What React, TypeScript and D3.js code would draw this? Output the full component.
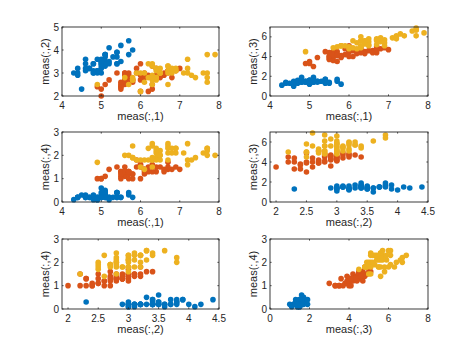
import React from "react";
import * as d3 from "d3";

// Fisher iris data (meas columns) grouped by species
const setosa: number[][] = [
  [5.1,3.5,1.4,0.2],[4.9,3.0,1.4,0.2],[4.7,3.2,1.3,0.2],[4.6,3.1,1.5,0.2],[5.0,3.6,1.4,0.2],
  [5.4,3.9,1.7,0.4],[4.6,3.4,1.4,0.3],[5.0,3.4,1.5,0.2],[4.4,2.9,1.4,0.2],[4.9,3.1,1.5,0.1],
  [5.4,3.7,1.5,0.2],[4.8,3.4,1.6,0.2],[4.8,3.0,1.4,0.1],[4.3,3.0,1.1,0.1],[5.8,4.0,1.2,0.2],
  [5.7,4.4,1.5,0.4],[5.4,3.9,1.3,0.4],[5.1,3.5,1.4,0.3],[5.7,3.8,1.7,0.3],[5.1,3.8,1.5,0.3],
  [5.4,3.4,1.7,0.2],[5.1,3.7,1.5,0.4],[4.6,3.6,1.0,0.2],[5.1,3.3,1.7,0.5],[4.8,3.4,1.9,0.2],
  [5.0,3.0,1.6,0.2],[5.0,3.4,1.6,0.4],[5.2,3.5,1.5,0.2],[5.2,3.4,1.4,0.2],[4.7,3.2,1.6,0.2],
  [4.8,3.1,1.6,0.2],[5.4,3.4,1.5,0.4],[5.2,4.1,1.5,0.1],[5.5,4.2,1.4,0.2],[4.9,3.1,1.5,0.2],
  [5.0,3.2,1.2,0.2],[5.5,3.5,1.3,0.2],[4.9,3.6,1.4,0.1],[4.4,3.0,1.3,0.2],[5.1,3.4,1.5,0.2],
  [5.0,3.5,1.3,0.3],[4.5,2.3,1.3,0.3],[4.4,3.2,1.3,0.2],[5.0,3.5,1.6,0.6],[5.1,3.8,1.9,0.4],
  [4.8,3.0,1.4,0.3],[5.1,3.8,1.6,0.2],[4.6,3.2,1.4,0.2],[5.3,3.7,1.5,0.2],[5.0,3.3,1.4,0.2],
];
const versicolor: number[][] = [
  [7.0,3.2,4.7,1.4],[6.4,3.2,4.5,1.5],[6.9,3.1,4.9,1.5],[5.5,2.3,4.0,1.3],[6.5,2.8,4.6,1.5],
  [5.7,2.8,4.5,1.3],[6.3,3.3,4.7,1.6],[4.9,2.4,3.3,1.0],[6.6,2.9,4.6,1.3],[5.2,2.7,3.9,1.4],
  [5.0,2.0,3.5,1.0],[5.9,3.0,4.2,1.5],[6.0,2.2,4.0,1.0],[6.1,2.9,4.7,1.4],[5.6,2.9,3.6,1.3],
  [6.7,3.1,4.4,1.4],[5.6,3.0,4.5,1.5],[5.8,2.7,4.1,1.0],[6.2,2.2,4.5,1.5],[5.6,2.5,3.9,1.1],
  [5.9,3.2,4.8,1.8],[6.1,2.8,4.0,1.3],[6.3,2.5,4.9,1.5],[6.1,2.8,4.7,1.2],[6.4,2.9,4.3,1.3],
  [6.6,3.0,4.4,1.4],[6.8,2.8,4.8,1.4],[6.7,3.0,5.0,1.7],[6.0,2.9,4.5,1.5],[5.7,2.6,3.5,1.0],
  [5.5,2.4,3.8,1.1],[5.5,2.4,3.7,1.0],[5.8,2.7,3.9,1.2],[6.0,2.7,5.1,1.6],[5.4,3.0,4.5,1.5],
  [6.0,3.4,4.5,1.6],[6.7,3.1,4.7,1.5],[6.3,2.3,4.4,1.3],[5.6,3.0,4.1,1.3],[5.5,2.5,4.0,1.3],
  [5.5,2.6,4.4,1.2],[6.1,3.0,4.6,1.4],[5.8,2.6,4.0,1.2],[5.0,2.3,3.3,1.0],[5.6,2.7,4.2,1.3],
  [5.7,3.0,4.2,1.2],[5.7,2.9,4.2,1.3],[6.2,2.9,4.3,1.3],[5.1,2.5,3.0,1.1],[5.7,2.8,4.1,1.3],
];
const virginica: number[][] = [
  [6.3,3.3,6.0,2.5],[5.8,2.7,5.1,1.9],[7.1,3.0,5.9,2.1],[6.3,2.9,5.6,1.8],[6.5,3.0,5.8,2.2],
  [7.6,3.0,6.6,2.1],[4.9,2.5,4.5,1.7],[7.3,2.9,6.3,1.8],[6.7,2.5,5.8,1.8],[7.2,3.6,6.1,2.5],
  [6.5,3.2,5.1,2.0],[6.4,2.7,5.3,1.9],[6.8,3.0,5.5,2.1],[5.7,2.5,5.0,2.0],[5.8,2.8,5.1,2.4],
  [6.4,3.2,5.3,2.3],[6.5,3.0,5.5,1.8],[7.7,3.8,6.7,2.2],[7.7,2.6,6.9,2.3],[6.0,2.2,5.0,1.5],
  [6.9,3.2,5.7,2.3],[5.6,2.8,4.9,2.0],[7.7,2.8,6.7,2.0],[6.3,2.7,4.9,1.8],[6.7,3.3,5.7,2.1],
  [7.2,3.2,6.0,1.8],[6.2,2.8,4.8,1.8],[6.1,3.0,4.9,1.8],[6.4,2.8,5.6,2.1],[7.2,3.0,5.8,1.6],
  [7.4,2.8,6.1,1.9],[7.9,3.8,6.4,2.0],[6.4,2.8,5.6,2.2],[6.3,2.8,5.1,1.5],[6.1,2.6,5.6,1.4],
  [7.7,3.0,6.1,2.3],[6.3,3.4,5.6,2.4],[6.4,3.1,5.5,1.8],[6.0,3.0,4.8,1.8],[6.9,3.1,5.4,2.1],
  [6.7,3.1,5.6,2.4],[6.9,3.1,5.1,2.3],[5.8,2.7,5.1,1.9],[6.8,3.2,5.9,2.3],[6.7,3.3,5.7,2.5],
  [6.7,3.0,5.2,2.3],[6.3,2.5,5.0,1.9],[6.5,3.0,5.2,2.0],[6.2,3.4,5.4,2.3],[5.9,3.0,5.1,1.8],
];

const groups = [setosa, versicolor, virginica];
const groupColors = ["#0072BD", "#D95319", "#EDB120"];

// panel definitions: [xCol, yCol]
const pairs: [number, number][] = [[0, 1], [0, 2], [0, 3], [1, 2], [1, 3], [2, 3]];
const limits: [number, number][] = [[4, 8], [1.9, 4.5], [0, 8], [0, 3]];
const limitsY: [number, number][] = [[4, 8], [2, 5], [0, 7], [0, 3]];
const ticksFor: number[][] = [
  [4, 5, 6, 7, 8],
  [2, 2.5, 3, 3.5, 4, 4.5],
  [0, 2, 4, 6, 8],
  [0, 1, 2, 3],
];
const ticksForY: number[][] = [
  [4, 5, 6, 7, 8],
  [2, 3, 4, 5],
  [0, 2, 4, 6],
  [0, 1, 2, 3],
];
const labels = ["meas(:,1)", "meas(:,2)", "meas(:,3)", "meas(:,4)"];

const colLeft = [62, 270];
const colRight = [219, 428];
const rowTop = [27, 132, 239];
const rowBottom = [96, 202, 309];

const FONT = "'Liberation Sans', Arial, Helvetica, sans-serif";
const AX = "#262626";

function Panel({ idx }: { idx: number }) {
  const [xc, yc] = pairs[idx];
  const col = idx % 2;
  const row = Math.floor(idx / 2);
  const x0 = colLeft[col], x1 = colRight[col];
  const y0 = rowTop[row], y1 = rowBottom[row];
  const xs = d3.scaleLinear().domain(limits[xc]).range([x0, x1]);
  const ys = d3.scaleLinear().domain(limitsY[yc]).range([y1, y0]);
  const tl = 1.6;
  const clipId = `clip${idx}`;
  return (
    <g>
      <defs>
        <clipPath id={clipId}>
          <rect x={x0 - 3} y={y0 - 3} width={x1 - x0 + 6} height={y1 - y0 + 6} />
        </clipPath>
      </defs>
      <rect x={x0} y={y0} width={x1 - x0} height={y1 - y0} fill="#fff" />
      <g clipPath={`url(#${clipId})`}>
        {groups.map((g, gi) =>
          g.map((r, i) => (
            <circle key={`${gi}-${i}`} cx={xs(r[xc])} cy={ys(r[yc])} r={2.8} fill={groupColors[gi]} />
          ))
        )}
      </g>
      <rect x={x0} y={y0} width={x1 - x0} height={y1 - y0} fill="none" stroke={AX} strokeWidth={0.9} />
      {ticksFor[xc].map((t) => (
        <g key={`x${t}`}>
          <line x1={xs(t)} x2={xs(t)} y1={y1} y2={y1 - tl} stroke={AX} strokeWidth={0.8} />
          <line x1={xs(t)} x2={xs(t)} y1={y0} y2={y0 + tl} stroke={AX} strokeWidth={0.8} />
          <text x={xs(t)} y={y1 + 12.5} textAnchor="middle" fontSize={10} fontFamily={FONT} fill={AX}>
            {String(t)}
          </text>
        </g>
      ))}
      {ticksForY[yc].map((t) => (
        <g key={`y${t}`}>
          <line x1={x0} x2={x0 + tl} y1={ys(t)} y2={ys(t)} stroke={AX} strokeWidth={0.8} />
          <line x1={x1} x2={x1 - tl} y1={ys(t)} y2={ys(t)} stroke={AX} strokeWidth={0.8} />
          <text x={x0 - 3} y={ys(t) + 3.6} textAnchor="end" fontSize={10} fontFamily={FONT} fill={AX}>
            {String(t)}
          </text>
        </g>
      ))}
      <text x={(x0 + x1) / 2} y={y1 + 24} textAnchor="middle" fontSize={11} fontFamily={FONT} fill={AX}>
        {labels[xc]}
      </text>
      <text
        transform={`translate(${x0 - 13},${(y0 + y1) / 2}) rotate(-90)`}
        textAnchor="middle"
        fontSize={11}
        fontFamily={FONT}
        fill={AX}
      >
        {labels[yc]}
      </text>
    </g>
  );
}

export default function App() {
  return (
    <svg
      width={474}
      height={355}
      style={{ position: "absolute", left: 0, top: 0, background: "#fff" }}
    >
      <rect width={474} height={355} fill="#fff" />
      {pairs.map((_, i) => (
        <Panel key={i} idx={i} />
      ))}
    </svg>
  );
}
